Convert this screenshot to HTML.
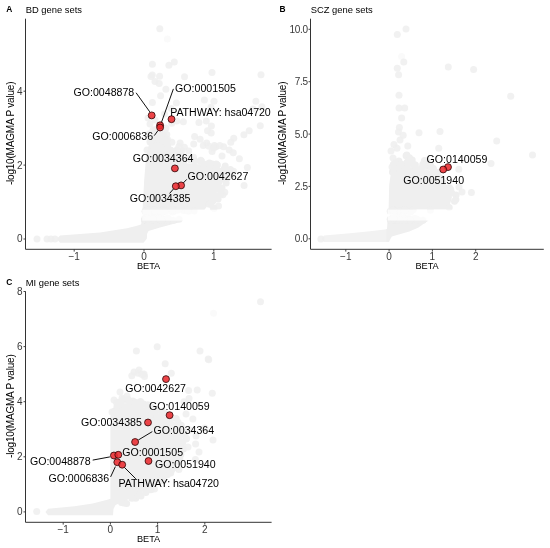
<!DOCTYPE html>
<html lang="en"><head><meta charset="utf-8"><title>Gene set volcano plots</title>
<style>
html,body{margin:0;padding:0;background:#fff;}
body{width:550px;height:548px;overflow:hidden;}
svg{display:block;font-family:"Liberation Sans", Arial, Helvetica, sans-serif;}
</style></head><body>
<svg width="550" height="548" viewBox="0 0 550 548">
<rect width="550" height="548" fill="#fff"/>
<g id="panel-A">
<g fill="#efefef">
<path d="M142.5 209.7L144.2 180.0L146.0 158.0L148.5 146.0L156.0 141.0L164.0 144.0L169.0 152.0L174.0 160.0L184.0 163.0L196.0 164.0L208.0 165.0L218.0 167.0L226.0 170.0L228.0 173.0L224.0 180.0L219.0 189.0L214.0 197.0L208.0 205.0L204.5 209.7Z"/>
<path d="M142.0 220.6L183.0 220.6L180.6 222.0L160.0 227.4L148.5 231.0L147.0 234.0L146.9 238.6L143.6 242.7L60.0 242.7L57.0 239.0L60.0 235.5L100.0 232.6L127.0 228.3L136.0 226.0L141.0 224.5Z"/>
<g fill-opacity="0.85">
<circle cx="152.2" cy="219.1" r="3.5"/>
<circle cx="153.2" cy="212.2" r="3.5"/>
<circle cx="151.2" cy="210.2" r="3.5"/>
<circle cx="149.5" cy="219.6" r="3.5"/>
<circle cx="149.1" cy="211.9" r="3.5"/>
<circle cx="146.3" cy="219.8" r="3.5"/>
<circle cx="148.8" cy="219.9" r="3.5"/>
<circle cx="163.7" cy="210.6" r="3.5"/>
<circle cx="146.4" cy="218.7" r="3.5"/>
<circle cx="165.0" cy="211.0" r="3.5"/>
<circle cx="155.8" cy="218.5" r="3.5"/>
<circle cx="149.9" cy="220.5" r="3.5"/>
<circle cx="149.3" cy="220.5" r="3.5"/>
<circle cx="151.5" cy="210.6" r="3.5"/>
<circle cx="148.8" cy="218.2" r="3.5"/>
<circle cx="149.7" cy="211.2" r="3.5"/>
<circle cx="153.1" cy="219.4" r="3.5"/>
<circle cx="148.3" cy="211.0" r="3.5"/>
<circle cx="146.8" cy="218.2" r="3.5"/>
<circle cx="155.6" cy="218.5" r="3.5"/>
<circle cx="152.6" cy="218.8" r="3.5"/>
<circle cx="162.5" cy="218.5" r="3.5"/>
<circle cx="163.7" cy="210.6" r="3.5"/>
<circle cx="150.9" cy="220.6" r="3.5"/>
<circle cx="146.2" cy="212.2" r="3.5"/>
<circle cx="164.9" cy="210.7" r="3.5"/>
<circle cx="153.6" cy="219.5" r="3.5"/>
<circle cx="163.7" cy="210.7" r="3.5"/>
<circle cx="153.4" cy="220.0" r="3.5"/>
<circle cx="149.6" cy="218.9" r="3.5"/>
<circle cx="151.5" cy="218.5" r="3.5"/>
<circle cx="149.0" cy="211.2" r="3.5"/>
<circle cx="170.7" cy="211.0" r="3.5"/>
<circle cx="148.2" cy="211.5" r="3.5"/>
<circle cx="175.4" cy="151.5" r="3.5"/>
<circle cx="243.9" cy="134.7" r="3.5"/>
<circle cx="148.9" cy="219.3" r="3.5"/>
<circle cx="154.1" cy="212.2" r="3.5"/>
<circle cx="148.9" cy="219.5" r="3.5"/>
<circle cx="145.6" cy="219.7" r="3.5"/>
<circle cx="147.5" cy="219.3" r="3.5"/>
<circle cx="145.7" cy="212.2" r="3.5"/>
<circle cx="146.9" cy="218.2" r="3.5"/>
<circle cx="156.9" cy="218.9" r="3.5"/>
<circle cx="149.9" cy="210.6" r="3.5"/>
<circle cx="168.6" cy="220.3" r="3.5"/>
<circle cx="151.4" cy="211.7" r="3.5"/>
<circle cx="149.2" cy="220.6" r="3.5"/>
<circle cx="157.8" cy="211.2" r="3.5"/>
<circle cx="151.7" cy="211.9" r="3.5"/>
<circle cx="173.1" cy="210.7" r="3.5"/>
<circle cx="239.4" cy="158.7" r="3.5"/>
<circle cx="148.3" cy="220.5" r="3.5"/>
<circle cx="160.9" cy="209.9" r="3.5"/>
<circle cx="153.3" cy="219.4" r="3.5"/>
<circle cx="145.9" cy="218.4" r="3.5"/>
<circle cx="194.2" cy="211.1" r="3.5"/>
<circle cx="152.5" cy="219.6" r="3.5"/>
<circle cx="224.8" cy="192.2" r="3.5"/>
<circle cx="146.9" cy="218.7" r="3.5"/>
<circle cx="149.3" cy="219.4" r="3.5"/>
<circle cx="154.6" cy="218.2" r="3.5"/>
<circle cx="215.9" cy="146.7" r="3.5"/>
<circle cx="149.3" cy="219.0" r="3.5"/>
<circle cx="193.5" cy="157.2" r="3.5"/>
<circle cx="148.2" cy="220.0" r="3.5"/>
<circle cx="176.6" cy="210.0" r="3.5"/>
<circle cx="148.9" cy="209.9" r="3.5"/>
<circle cx="148.0" cy="211.1" r="3.5"/>
<circle cx="145.8" cy="218.4" r="3.5"/>
<circle cx="184.1" cy="210.2" r="3.5"/>
<circle cx="206.6" cy="143.1" r="3.5"/>
<circle cx="145.8" cy="220.3" r="3.5"/>
<circle cx="158.9" cy="220.1" r="3.5"/>
<circle cx="155.0" cy="218.6" r="3.5"/>
<circle cx="223.6" cy="146.8" r="3.5"/>
<circle cx="147.1" cy="219.6" r="3.5"/>
<circle cx="222.0" cy="156.1" r="3.5"/>
<circle cx="145.7" cy="220.0" r="3.5"/>
<circle cx="148.0" cy="219.8" r="3.5"/>
<circle cx="183.7" cy="210.4" r="3.5"/>
<circle cx="153.2" cy="211.2" r="3.5"/>
<circle cx="147.9" cy="219.2" r="3.5"/>
<circle cx="164.8" cy="210.0" r="3.5"/>
<circle cx="187.9" cy="210.9" r="3.5"/>
<circle cx="173.2" cy="220.3" r="3.5"/>
<circle cx="147.6" cy="220.1" r="3.5"/>
<circle cx="151.2" cy="219.9" r="3.5"/>
<circle cx="148.5" cy="219.6" r="3.5"/>
<circle cx="152.7" cy="220.3" r="3.5"/>
<circle cx="148.1" cy="211.4" r="3.5"/>
<circle cx="146.1" cy="210.5" r="3.5"/>
<circle cx="149.3" cy="212.1" r="3.5"/>
<circle cx="146.0" cy="219.2" r="3.5"/>
<circle cx="209.3" cy="204.3" r="3.5"/>
<circle cx="172.8" cy="211.9" r="3.5"/>
<circle cx="164.5" cy="219.9" r="3.5"/>
<circle cx="149.6" cy="218.2" r="3.5"/>
<circle cx="145.0" cy="218.3" r="3.5"/>
<circle cx="153.8" cy="211.2" r="3.5"/>
<circle cx="147.9" cy="219.4" r="3.5"/>
<circle cx="146.8" cy="218.7" r="3.5"/>
<circle cx="148.6" cy="218.7" r="3.5"/>
<circle cx="147.2" cy="218.2" r="3.5"/>
<circle cx="160.9" cy="219.0" r="3.5"/>
<circle cx="156.6" cy="220.4" r="3.5"/>
<circle cx="176.1" cy="210.3" r="3.5"/>
<circle cx="145.1" cy="211.2" r="3.5"/>
<circle cx="144.8" cy="220.0" r="3.5"/>
<circle cx="146.1" cy="211.6" r="3.5"/>
<circle cx="147.3" cy="218.7" r="3.5"/>
<circle cx="148.9" cy="218.9" r="3.5"/>
<circle cx="149.7" cy="218.3" r="3.5"/>
<circle cx="149.2" cy="210.8" r="3.5"/>
<circle cx="155.1" cy="219.6" r="3.5"/>
<circle cx="145.6" cy="219.6" r="3.5"/>
<circle cx="153.0" cy="211.8" r="3.5"/>
<circle cx="147.0" cy="220.3" r="3.5"/>
<circle cx="173.2" cy="210.2" r="3.5"/>
<circle cx="159.7" cy="210.6" r="3.5"/>
<circle cx="178.6" cy="209.9" r="3.5"/>
<circle cx="160.3" cy="209.9" r="3.5"/>
<circle cx="145.4" cy="211.4" r="3.5"/>
<circle cx="189.0" cy="211.1" r="3.5"/>
<circle cx="146.4" cy="220.3" r="3.5"/>
<circle cx="149.8" cy="219.0" r="3.5"/>
<circle cx="151.9" cy="210.0" r="3.5"/>
<circle cx="147.1" cy="218.6" r="3.5"/>
<circle cx="147.9" cy="219.9" r="3.5"/>
<circle cx="167.0" cy="219.5" r="3.5"/>
<circle cx="178.3" cy="158.3" r="3.5"/>
<circle cx="156.8" cy="219.2" r="3.5"/>
<circle cx="146.2" cy="220.1" r="3.5"/>
<circle cx="152.2" cy="219.2" r="3.5"/>
<circle cx="150.1" cy="211.2" r="3.5"/>
<circle cx="146.0" cy="219.6" r="3.5"/>
<circle cx="222.9" cy="194.8" r="3.5"/>
<circle cx="166.8" cy="134.6" r="3.5"/>
<circle cx="153.9" cy="211.5" r="3.5"/>
<circle cx="163.7" cy="136.7" r="3.5"/>
<circle cx="178.7" cy="160.1" r="3.5"/>
<circle cx="152.5" cy="219.6" r="3.5"/>
<circle cx="148.1" cy="210.6" r="3.5"/>
<circle cx="148.8" cy="220.5" r="3.5"/>
<circle cx="146.0" cy="219.1" r="3.5"/>
<circle cx="213.3" cy="207.7" r="3.5"/>
<circle cx="159.0" cy="212.0" r="3.5"/>
<circle cx="188.1" cy="209.9" r="3.5"/>
<circle cx="144.9" cy="219.6" r="3.5"/>
<circle cx="152.2" cy="218.6" r="3.5"/>
<circle cx="157.0" cy="218.2" r="3.5"/>
<circle cx="146.3" cy="218.3" r="3.5"/>
<circle cx="153.0" cy="210.8" r="3.5"/>
<circle cx="159.7" cy="210.4" r="3.5"/>
<circle cx="149.3" cy="220.1" r="3.5"/>
<circle cx="157.7" cy="219.1" r="3.5"/>
<circle cx="166.9" cy="220.5" r="3.5"/>
<circle cx="144.8" cy="220.0" r="3.5"/>
<circle cx="203.3" cy="145.6" r="3.5"/>
<circle cx="156.2" cy="219.5" r="3.5"/>
<circle cx="150.7" cy="210.9" r="3.5"/>
<circle cx="213.6" cy="164.8" r="3.5"/>
<circle cx="147.5" cy="218.4" r="3.5"/>
<circle cx="146.9" cy="219.1" r="3.5"/>
<circle cx="149.0" cy="219.3" r="3.5"/>
<circle cx="218.5" cy="205.9" r="3.5"/>
<circle cx="149.0" cy="211.0" r="3.5"/>
<circle cx="149.2" cy="210.4" r="3.5"/>
<circle cx="212.1" cy="151.5" r="3.5"/>
<circle cx="149.5" cy="220.4" r="3.5"/>
<circle cx="146.3" cy="210.8" r="3.5"/>
<circle cx="200.7" cy="160.3" r="3.5"/>
<circle cx="150.6" cy="219.2" r="3.5"/>
<circle cx="168.0" cy="218.1" r="3.5"/>
<circle cx="149.3" cy="220.4" r="3.5"/>
<circle cx="147.0" cy="219.8" r="3.5"/>
<circle cx="149.2" cy="212.1" r="3.5"/>
<circle cx="146.4" cy="218.4" r="3.5"/>
<circle cx="148.6" cy="219.8" r="3.5"/>
<circle cx="147.0" cy="220.0" r="3.5"/>
<circle cx="150.9" cy="220.6" r="3.5"/>
<circle cx="146.0" cy="220.5" r="3.5"/>
<circle cx="161.3" cy="218.3" r="3.5"/>
<circle cx="156.8" cy="211.9" r="3.5"/>
<circle cx="164.9" cy="211.4" r="3.5"/>
<circle cx="184.4" cy="147.2" r="3.5"/>
<circle cx="211.4" cy="126.1" r="3.5"/>
<circle cx="148.8" cy="219.9" r="3.5"/>
<circle cx="144.8" cy="219.9" r="3.5"/>
<circle cx="152.0" cy="211.5" r="3.5"/>
<circle cx="161.9" cy="220.3" r="3.5"/>
<circle cx="153.0" cy="218.9" r="3.5"/>
<circle cx="252.9" cy="108.9" r="3.5"/>
<circle cx="158.8" cy="218.5" r="3.5"/>
<circle cx="154.0" cy="210.3" r="3.5"/>
<circle cx="244.1" cy="185.4" r="3.5"/>
<circle cx="167.7" cy="139.7" r="3.5"/>
<circle cx="180.5" cy="152.4" r="3.5"/>
<circle cx="173.2" cy="211.0" r="3.5"/>
<circle cx="160.7" cy="218.7" r="3.5"/>
<circle cx="162.4" cy="219.7" r="3.5"/>
<circle cx="150.0" cy="210.1" r="3.5"/>
<circle cx="162.3" cy="220.5" r="3.5"/>
<circle cx="147.4" cy="211.9" r="3.5"/>
<circle cx="156.4" cy="211.3" r="3.5"/>
<circle cx="162.5" cy="212.0" r="3.5"/>
<circle cx="151.9" cy="210.6" r="3.5"/>
<circle cx="188.4" cy="158.5" r="3.5"/>
<circle cx="145.9" cy="220.0" r="3.5"/>
<circle cx="146.0" cy="219.3" r="3.5"/>
<circle cx="145.5" cy="219.1" r="3.5"/>
<circle cx="162.4" cy="219.8" r="3.5"/>
<circle cx="147.5" cy="220.5" r="3.5"/>
<circle cx="146.8" cy="219.3" r="3.5"/>
<circle cx="155.3" cy="220.5" r="3.5"/>
<circle cx="159.6" cy="220.3" r="3.5"/>
<circle cx="147.7" cy="210.1" r="3.5"/>
<circle cx="151.8" cy="219.3" r="3.5"/>
<circle cx="153.4" cy="210.3" r="3.5"/>
<circle cx="146.8" cy="218.3" r="3.5"/>
<circle cx="154.1" cy="211.1" r="3.5"/>
<circle cx="149.7" cy="218.6" r="3.5"/>
<circle cx="160.6" cy="211.5" r="3.5"/>
<circle cx="146.6" cy="219.9" r="3.5"/>
<circle cx="145.6" cy="219.2" r="3.5"/>
<circle cx="167.9" cy="218.2" r="3.5"/>
<circle cx="155.1" cy="129.7" r="3.5"/>
<circle cx="154.7" cy="219.6" r="3.5"/>
<circle cx="146.6" cy="218.5" r="3.5"/>
<circle cx="157.5" cy="210.7" r="3.5"/>
<circle cx="155.8" cy="218.4" r="3.5"/>
<circle cx="147.1" cy="218.5" r="3.5"/>
<circle cx="149.0" cy="220.5" r="3.5"/>
<circle cx="172.5" cy="211.5" r="3.5"/>
<circle cx="148.8" cy="210.3" r="3.5"/>
<circle cx="147.8" cy="211.4" r="3.5"/>
<circle cx="154.0" cy="218.9" r="3.5"/>
<circle cx="233.7" cy="138.3" r="3.5"/>
<circle cx="148.7" cy="219.5" r="3.5"/>
<circle cx="164.2" cy="211.1" r="3.5"/>
<circle cx="149.5" cy="220.1" r="3.5"/>
<circle cx="179.1" cy="157.4" r="3.5"/>
<circle cx="146.0" cy="210.9" r="3.5"/>
<circle cx="181.6" cy="150.9" r="3.5"/>
<circle cx="153.1" cy="219.0" r="3.5"/>
<circle cx="159.9" cy="219.5" r="3.5"/>
<circle cx="172.5" cy="210.1" r="3.5"/>
<circle cx="151.7" cy="218.1" r="3.5"/>
<circle cx="214.1" cy="208.5" r="3.5"/>
<circle cx="158.9" cy="210.9" r="3.5"/>
<circle cx="150.7" cy="220.4" r="3.5"/>
<circle cx="161.9" cy="220.6" r="3.5"/>
<circle cx="148.7" cy="220.5" r="3.5"/>
<circle cx="153.0" cy="219.3" r="3.5"/>
<circle cx="154.9" cy="210.2" r="3.5"/>
<circle cx="180.1" cy="143.0" r="3.5"/>
<circle cx="179.1" cy="219.3" r="3.5"/>
<circle cx="148.2" cy="219.3" r="3.5"/>
<circle cx="210.9" cy="107.3" r="3.5"/>
<circle cx="156.9" cy="129.2" r="3.5"/>
<circle cx="159.6" cy="76.3" r="3.5"/>
<circle cx="233.5" cy="171.2" r="3.5"/>
<circle cx="171.1" cy="108.5" r="3.5"/>
<circle cx="180.3" cy="158.8" r="3.5"/>
<circle cx="188.7" cy="150.9" r="3.5"/>
<circle cx="180.2" cy="155.4" r="3.5"/>
<circle cx="164.6" cy="114.0" r="3.5"/>
<circle cx="153.9" cy="136.3" r="3.5"/>
<circle cx="229.2" cy="149.9" r="3.5"/>
<circle cx="158.3" cy="128.4" r="3.5"/>
<circle cx="171.0" cy="150.6" r="3.5"/>
<circle cx="177.1" cy="149.7" r="3.5"/>
<circle cx="177.3" cy="157.0" r="3.5"/>
<circle cx="193.7" cy="144.0" r="3.5"/>
<circle cx="165.9" cy="89.3" r="3.5"/>
<circle cx="184.5" cy="76.7" r="3.5"/>
<circle cx="151.1" cy="135.2" r="3.5"/>
<circle cx="151.7" cy="140.6" r="3.5"/>
<circle cx="152.3" cy="75.0" r="3.5"/>
<circle cx="155.0" cy="141.3" r="3.5"/>
<circle cx="176.4" cy="102.9" r="3.5"/>
<circle cx="183.4" cy="121.7" r="3.5"/>
<circle cx="171.7" cy="123.3" r="3.5"/>
<circle cx="214.4" cy="145.4" r="3.5"/>
<circle cx="179.0" cy="146.4" r="3.5"/>
<circle cx="209.0" cy="146.3" r="3.5"/>
<circle cx="194.6" cy="136.6" r="3.5"/>
<circle cx="168.9" cy="65.2" r="3.5"/>
<circle cx="160.0" cy="132.8" r="3.5"/>
<circle cx="159.8" cy="28.7" r="3.5"/>
<circle cx="152.4" cy="64.3" r="3.5"/>
<circle cx="174.3" cy="62.1" r="3.5"/>
<circle cx="212.0" cy="72.5" r="3.5"/>
<circle cx="261.0" cy="74.7" r="3.5"/>
<circle cx="151.0" cy="76.6" r="3.5"/>
<circle cx="155.0" cy="81.5" r="3.5"/>
<circle cx="159.2" cy="83.4" r="3.5"/>
<circle cx="152.4" cy="102.6" r="3.5"/>
<circle cx="160.6" cy="95.8" r="3.5"/>
<circle cx="204.4" cy="99.9" r="3.5"/>
<circle cx="214.0" cy="101.2" r="3.5"/>
<circle cx="255.9" cy="101.2" r="3.5"/>
<circle cx="261.9" cy="106.7" r="3.5"/>
<circle cx="37.0" cy="239.0" r="3.5"/>
<circle cx="47.0" cy="239.0" r="3.5"/>
<circle cx="51.0" cy="239.0" r="3.5"/>
<circle cx="55.0" cy="239.0" r="3.5"/>
<circle cx="198.9" cy="122.6" r="3.5"/>
<circle cx="206.3" cy="120.9" r="3.5"/>
<circle cx="207.5" cy="130.7" r="3.5"/>
<circle cx="211.2" cy="133.1" r="3.5"/>
<circle cx="200.1" cy="139.3" r="3.5"/>
<circle cx="230.8" cy="142.2" r="3.5"/>
<circle cx="171.9" cy="142.2" r="3.5"/>
<circle cx="213.6" cy="147.9" r="3.5"/>
<circle cx="219.8" cy="145.4" r="3.5"/>
<circle cx="233.3" cy="152.8" r="3.5"/>
<circle cx="249.2" cy="130.7" r="3.5"/>
<circle cx="260.3" cy="125.8" r="3.5"/>
<circle cx="176.8" cy="120.9" r="3.5"/>
<circle cx="247.4" cy="167.5" r="3.5"/>
<circle cx="148.0" cy="118.0" r="3.5"/>
<circle cx="150.0" cy="124.0" r="3.5"/>
<circle cx="153.0" cy="130.0" r="3.5"/>
<circle cx="149.0" cy="134.0" r="3.5"/>
<circle cx="156.0" cy="138.0" r="3.5"/>
<circle cx="163.0" cy="134.0" r="3.5"/>
<circle cx="166.0" cy="140.0" r="3.5"/>
<circle cx="158.0" cy="146.0" r="3.5"/>
<circle cx="150.0" cy="142.0" r="3.5"/>
<circle cx="147.0" cy="150.0" r="3.5"/>
<circle cx="166.0" cy="128.0" r="3.5"/>
<circle cx="155.0" cy="120.0" r="3.5"/>
</g>
<circle cx="167.4" cy="39.1" r="3.5" fill-opacity="0.3"/>
<circle cx="151.5" cy="142.8" r="3.5"/>
<circle cx="150.2" cy="141.5" r="3.5"/>
<circle cx="155.8" cy="138.8" r="3.5"/>
<circle cx="158.3" cy="139.1" r="3.5"/>
<circle cx="159.9" cy="141.9" r="3.5"/>
<circle cx="163.0" cy="141.0" r="3.5"/>
<circle cx="166.0" cy="142.4" r="3.5"/>
<circle cx="167.6" cy="145.0" r="3.5"/>
<circle cx="167.5" cy="146.7" r="3.5"/>
<circle cx="170.4" cy="150.0" r="3.5"/>
<circle cx="172.3" cy="152.6" r="3.5"/>
<circle cx="175.8" cy="159.0" r="3.5"/>
<circle cx="175.3" cy="160.2" r="3.5"/>
<circle cx="178.4" cy="157.6" r="3.5"/>
<circle cx="183.6" cy="161.8" r="3.5"/>
<circle cx="183.8" cy="161.2" r="3.5"/>
<circle cx="191.1" cy="159.7" r="3.5"/>
<circle cx="190.7" cy="159.8" r="3.5"/>
<circle cx="194.4" cy="160.9" r="3.5"/>
<circle cx="200.1" cy="161.3" r="3.5"/>
<circle cx="201.4" cy="161.0" r="3.5"/>
<circle cx="203.8" cy="164.0" r="3.5"/>
<circle cx="208.3" cy="163.8" r="3.5"/>
<circle cx="209.4" cy="163.0" r="3.5"/>
<circle cx="212.2" cy="164.1" r="3.5"/>
<circle cx="214.3" cy="165.7" r="3.5"/>
<circle cx="216.3" cy="164.1" r="3.5"/>
<circle cx="217.4" cy="164.9" r="3.5"/>
<circle cx="225.2" cy="166.0" r="3.5"/>
<circle cx="224.3" cy="168.8" r="3.5"/>
<circle cx="230.3" cy="169.6" r="3.5"/>
<circle cx="232.5" cy="172.1" r="3.5"/>
<circle cx="230.8" cy="175.6" r="3.5"/>
<circle cx="227.1" cy="178.0" r="3.5"/>
<circle cx="226.1" cy="183.1" r="3.5"/>
<circle cx="222.0" cy="187.9" r="3.5"/>
<circle cx="220.3" cy="190.2" r="3.5"/>
<circle cx="220.6" cy="194.4" r="3.5"/>
<circle cx="216.4" cy="195.7" r="3.5"/>
<circle cx="218.1" cy="199.1" r="3.5"/>
<circle cx="212.7" cy="201.1" r="3.5"/>
<circle cx="213.2" cy="200.2" r="3.5"/>
<circle cx="210.8" cy="203.9" r="3.5"/>
<rect x="142.2" y="209.7" width="129.8" height="10.900000000000006" fill="#fff" fill-opacity="0.72"/>
</g>
<path d="M25.5 18.7V249.3H271.6" fill="none" stroke="#333" stroke-width="1"/>
<path d="M74.2 249.3v2.3" stroke="#333" stroke-width="0.9"/>
<text x="74.2" y="259.5" font-size="10" fill="#383838" text-anchor="middle">−1</text>
<path d="M144.0 249.3v2.3" stroke="#333" stroke-width="0.9"/>
<text x="144.0" y="259.5" font-size="10" fill="#383838" text-anchor="middle">0</text>
<path d="M213.8 249.3v2.3" stroke="#333" stroke-width="0.9"/>
<text x="213.8" y="259.5" font-size="10" fill="#383838" text-anchor="middle">1</text>
<path d="M25.5 239.0h-2" stroke="#333" stroke-width="0.9"/>
<text x="22.6" y="242.4" font-size="10" fill="#383838" text-anchor="end">0</text>
<path d="M25.5 165.1h-2" stroke="#333" stroke-width="0.9"/>
<text x="22.6" y="168.5" font-size="10" fill="#383838" text-anchor="end">2</text>
<path d="M25.5 91.2h-2" stroke="#333" stroke-width="0.9"/>
<text x="22.6" y="94.6" font-size="10" fill="#383838" text-anchor="end">4</text>
<text x="148.6" y="269.3" font-size="9.2" fill="#000" text-anchor="middle">BETA</text>
<text transform="translate(13.5 133.4) rotate(-90)" font-size="10" letter-spacing="-0.2" fill="#000" text-anchor="middle">-log10(MAGMA P value)</text>
<text x="25.7" y="12.6" font-size="9.4" fill="#000">BD gene sets</text>
<text x="6.3" y="12.0" font-size="8.4" font-weight="bold" fill="#000">A</text>
<path d="M136.1 92.8L149.8 111.9" stroke="#111" stroke-width="1" fill="none"/>
<path d="M173.4 88.9L161.3 122.8" stroke="#111" stroke-width="1" fill="none"/>
<path d="M154.3 135.6L157.8 130.8" stroke="#111" stroke-width="1" fill="none"/>
<path d="M186.7 179.4L183.1 183.2" stroke="#111" stroke-width="1" fill="none"/>
<path d="M169.6 193.4L173.6 188.8" stroke="#111" stroke-width="1" fill="none"/>
<circle cx="151.7" cy="115.4" r="3.45" fill="#ea262b" fill-opacity="0.86" stroke="#2a0404" stroke-width="0.8"/>
<circle cx="160.1" cy="125.3" r="3.45" fill="#ea262b" fill-opacity="0.86" stroke="#2a0404" stroke-width="0.8"/>
<circle cx="160.1" cy="127.5" r="3.45" fill="#ea262b" fill-opacity="0.86" stroke="#2a0404" stroke-width="0.8"/>
<circle cx="171.5" cy="119.2" r="3.45" fill="#ea262b" fill-opacity="0.86" stroke="#2a0404" stroke-width="0.8"/>
<circle cx="174.9" cy="168.4" r="3.45" fill="#ea262b" fill-opacity="0.86" stroke="#2a0404" stroke-width="0.8"/>
<circle cx="181.1" cy="185.4" r="3.45" fill="#ea262b" fill-opacity="0.86" stroke="#2a0404" stroke-width="0.8"/>
<circle cx="175.8" cy="186.2" r="3.45" fill="#ea262b" fill-opacity="0.86" stroke="#2a0404" stroke-width="0.8"/>
<text x="73.5" y="96.4" font-size="10.62" fill="#000">GO:0048878</text>
<text x="175.1" y="91.6" font-size="10.62" fill="#000">GO:0001505</text>
<text x="170.2" y="115.8" font-size="10.62" fill="#000" letter-spacing="-0.07">PATHWAY: hsa04720</text>
<text x="92.3" y="140.1" font-size="10.62" fill="#000">GO:0006836</text>
<text x="132.7" y="161.5" font-size="10.62" fill="#000">GO:0034364</text>
<text x="187.6" y="180.3" font-size="10.62" fill="#000">GO:0042627</text>
<text x="129.7" y="201.6" font-size="10.62" fill="#000">GO:0034385</text>
</g>
<g id="panel-B">
<g fill="#efefef">
<path d="M388.6 209.6L389.2 185.0L391.0 172.0L396.0 166.0L404.0 168.0L412.0 167.0L420.0 171.0L428.0 170.0L436.0 176.0L443.0 184.0L449.0 191.0L452.0 197.0L450.0 204.0L447.0 209.6Z"/>
<path d="M387.5 220.5L428.5 220.5L418.0 227.8L409.3 231.5L391.8 236.5L390.4 239.0L389.0 242.0L386.0 242.0L386.0 229.3L387.0 229.0Z"/>
<path fill="#f2f2f2" d="M386.2 242.0L324.0 242.0L321.5 238.9L324.0 235.6L350.0 233.3L370.0 231.2L385.0 229.5L386.2 229.3Z"/>
<g fill-opacity="0.85">
<circle cx="394.4" cy="218.7" r="3.5"/>
<circle cx="392.1" cy="220.3" r="3.5"/>
<circle cx="392.6" cy="220.4" r="3.5"/>
<circle cx="390.7" cy="219.6" r="3.5"/>
<circle cx="394.2" cy="220.4" r="3.5"/>
<circle cx="395.8" cy="210.2" r="3.5"/>
<circle cx="401.8" cy="209.6" r="3.5"/>
<circle cx="391.5" cy="218.9" r="3.5"/>
<circle cx="401.9" cy="220.2" r="3.5"/>
<circle cx="393.7" cy="219.5" r="3.5"/>
<circle cx="404.2" cy="218.8" r="3.5"/>
<circle cx="397.5" cy="218.7" r="3.5"/>
<circle cx="394.1" cy="219.5" r="3.5"/>
<circle cx="393.0" cy="220.1" r="3.5"/>
<circle cx="399.5" cy="219.0" r="3.5"/>
<circle cx="408.0" cy="218.1" r="3.5"/>
<circle cx="401.1" cy="219.4" r="3.5"/>
<circle cx="390.2" cy="219.2" r="3.5"/>
<circle cx="391.8" cy="219.5" r="3.5"/>
<circle cx="397.0" cy="218.7" r="3.5"/>
<circle cx="395.7" cy="219.3" r="3.5"/>
<circle cx="398.6" cy="219.4" r="3.5"/>
<circle cx="392.5" cy="218.6" r="3.5"/>
<circle cx="395.7" cy="219.4" r="3.5"/>
<circle cx="399.7" cy="219.7" r="3.5"/>
<circle cx="391.6" cy="220.4" r="3.5"/>
<circle cx="397.0" cy="219.1" r="3.5"/>
<circle cx="392.1" cy="220.1" r="3.5"/>
<circle cx="395.0" cy="218.6" r="3.5"/>
<circle cx="395.1" cy="219.7" r="3.5"/>
<circle cx="401.6" cy="210.3" r="3.5"/>
<circle cx="407.0" cy="219.7" r="3.5"/>
<circle cx="401.0" cy="211.1" r="3.5"/>
<circle cx="394.1" cy="219.9" r="3.5"/>
<circle cx="392.5" cy="219.5" r="3.5"/>
<circle cx="393.3" cy="218.2" r="3.5"/>
<circle cx="394.8" cy="219.1" r="3.5"/>
<circle cx="410.7" cy="212.0" r="3.5"/>
<circle cx="405.8" cy="219.0" r="3.5"/>
<circle cx="399.2" cy="211.8" r="3.5"/>
<circle cx="392.2" cy="219.8" r="3.5"/>
<circle cx="397.9" cy="210.8" r="3.5"/>
<circle cx="392.7" cy="210.5" r="3.5"/>
<circle cx="393.3" cy="218.0" r="3.5"/>
<circle cx="414.5" cy="218.4" r="3.5"/>
<circle cx="392.1" cy="210.9" r="3.5"/>
<circle cx="397.8" cy="219.8" r="3.5"/>
<circle cx="403.5" cy="220.1" r="3.5"/>
<circle cx="416.0" cy="218.8" r="3.5"/>
<circle cx="405.4" cy="211.3" r="3.5"/>
<circle cx="401.5" cy="218.7" r="3.5"/>
<circle cx="399.3" cy="220.4" r="3.5"/>
<circle cx="392.8" cy="218.9" r="3.5"/>
<circle cx="391.5" cy="219.6" r="3.5"/>
<circle cx="423.0" cy="220.2" r="3.5"/>
<circle cx="409.6" cy="219.0" r="3.5"/>
<circle cx="408.1" cy="219.8" r="3.5"/>
<circle cx="392.5" cy="219.7" r="3.5"/>
<circle cx="398.0" cy="218.0" r="3.5"/>
<circle cx="396.2" cy="211.6" r="3.5"/>
<circle cx="430.4" cy="210.2" r="3.5"/>
<circle cx="409.3" cy="220.4" r="3.5"/>
<circle cx="401.3" cy="220.0" r="3.5"/>
<circle cx="399.6" cy="211.2" r="3.5"/>
<circle cx="401.1" cy="219.6" r="3.5"/>
<circle cx="393.7" cy="218.7" r="3.5"/>
<circle cx="395.2" cy="218.6" r="3.5"/>
<circle cx="395.8" cy="220.2" r="3.5"/>
<circle cx="393.3" cy="218.8" r="3.5"/>
<circle cx="393.0" cy="218.4" r="3.5"/>
<circle cx="392.1" cy="219.9" r="3.5"/>
<circle cx="395.4" cy="219.4" r="3.5"/>
<circle cx="391.5" cy="220.4" r="3.5"/>
<circle cx="426.8" cy="160.9" r="3.5"/>
<circle cx="409.8" cy="220.3" r="3.5"/>
<circle cx="404.0" cy="220.4" r="3.5"/>
<circle cx="399.1" cy="211.6" r="3.5"/>
<circle cx="398.5" cy="211.6" r="3.5"/>
<circle cx="394.5" cy="211.1" r="3.5"/>
<circle cx="393.2" cy="218.5" r="3.5"/>
<circle cx="392.5" cy="219.6" r="3.5"/>
<circle cx="394.5" cy="210.5" r="3.5"/>
<circle cx="403.1" cy="218.2" r="3.5"/>
<circle cx="404.0" cy="211.6" r="3.5"/>
<circle cx="390.2" cy="211.2" r="3.5"/>
<circle cx="391.5" cy="219.6" r="3.5"/>
<circle cx="413.3" cy="209.7" r="3.5"/>
<circle cx="393.3" cy="210.4" r="3.5"/>
<circle cx="390.5" cy="220.1" r="3.5"/>
<circle cx="397.4" cy="218.4" r="3.5"/>
<circle cx="417.7" cy="219.8" r="3.5"/>
<circle cx="403.1" cy="218.4" r="3.5"/>
<circle cx="399.9" cy="219.5" r="3.5"/>
<circle cx="404.1" cy="218.8" r="3.5"/>
<circle cx="396.4" cy="219.7" r="3.5"/>
<circle cx="393.0" cy="218.7" r="3.5"/>
<circle cx="395.4" cy="218.6" r="3.5"/>
<circle cx="402.6" cy="220.5" r="3.5"/>
<circle cx="394.1" cy="218.4" r="3.5"/>
<circle cx="394.8" cy="218.2" r="3.5"/>
<circle cx="397.0" cy="218.1" r="3.5"/>
<circle cx="471.4" cy="192.5" r="3.5"/>
<circle cx="394.0" cy="211.2" r="3.5"/>
<circle cx="404.7" cy="210.0" r="3.5"/>
<circle cx="394.7" cy="219.6" r="3.5"/>
<circle cx="391.6" cy="219.2" r="3.5"/>
<circle cx="399.6" cy="220.4" r="3.5"/>
<circle cx="392.5" cy="219.4" r="3.5"/>
<circle cx="392.8" cy="210.1" r="3.5"/>
<circle cx="391.1" cy="220.3" r="3.5"/>
<circle cx="398.8" cy="219.6" r="3.5"/>
<circle cx="393.9" cy="218.4" r="3.5"/>
<circle cx="320.9" cy="238.9" r="3.5"/>
<circle cx="406.0" cy="29.0" r="3.5"/>
<circle cx="397.3" cy="34.6" r="3.5"/>
<circle cx="403.8" cy="62.1" r="3.5"/>
<circle cx="397.3" cy="68.2" r="3.5"/>
<circle cx="398.6" cy="74.8" r="3.5"/>
<circle cx="448.3" cy="66.9" r="3.5"/>
<circle cx="473.6" cy="69.5" r="3.5"/>
<circle cx="399.0" cy="95.3" r="3.5"/>
<circle cx="510.7" cy="96.2" r="3.5"/>
<circle cx="399.0" cy="107.9" r="3.5"/>
<circle cx="404.7" cy="107.9" r="3.5"/>
<circle cx="401.6" cy="118.0" r="3.5"/>
<circle cx="399.4" cy="127.6" r="3.5"/>
<circle cx="419.0" cy="132.8" r="3.5"/>
<circle cx="440.0" cy="131.5" r="3.5"/>
<circle cx="496.7" cy="141.0" r="3.5"/>
<circle cx="532.5" cy="155.0" r="3.5"/>
<circle cx="491.0" cy="163.6" r="3.5"/>
<circle cx="398.5" cy="132.1" r="3.5"/>
<circle cx="403.2" cy="135.2" r="3.5"/>
<circle cx="393.9" cy="144.5" r="3.5"/>
<circle cx="397.0" cy="148.2" r="3.5"/>
<circle cx="407.8" cy="146.0" r="3.5"/>
<circle cx="438.7" cy="148.2" r="3.5"/>
<circle cx="458.8" cy="169.2" r="3.5"/>
<circle cx="393.0" cy="158.0" r="3.5"/>
<circle cx="396.0" cy="163.0" r="3.5"/>
<circle cx="392.0" cy="167.0" r="3.5"/>
<circle cx="398.0" cy="168.0" r="3.5"/>
<circle cx="424.0" cy="162.0" r="3.5"/>
<circle cx="429.0" cy="166.0" r="3.5"/>
<circle cx="426.0" cy="170.0" r="3.5"/>
<circle cx="459.0" cy="187.0" r="3.5"/>
<circle cx="462.0" cy="192.0" r="3.5"/>
<circle cx="400.0" cy="140.0" r="3.5"/>
<circle cx="391.0" cy="151.0" r="3.5"/>
</g>
<circle cx="401.6" cy="56.4" r="3.5" fill-opacity="0.3"/>
<circle cx="392.4" cy="172.1" r="3.5"/>
<circle cx="393.5" cy="170.9" r="3.5"/>
<circle cx="394.2" cy="167.8" r="3.5"/>
<circle cx="393.4" cy="164.3" r="3.5"/>
<circle cx="396.3" cy="162.2" r="3.5"/>
<circle cx="398.9" cy="161.1" r="3.5"/>
<circle cx="401.5" cy="164.2" r="3.5"/>
<circle cx="401.3" cy="164.5" r="3.5"/>
<circle cx="404.3" cy="166.9" r="3.5"/>
<circle cx="407.5" cy="165.7" r="3.5"/>
<circle cx="407.3" cy="162.1" r="3.5"/>
<circle cx="412.2" cy="159.9" r="3.5"/>
<circle cx="413.5" cy="164.2" r="3.5"/>
<circle cx="415.4" cy="165.0" r="3.5"/>
<circle cx="415.5" cy="168.8" r="3.5"/>
<circle cx="421.1" cy="168.5" r="3.5"/>
<circle cx="422.8" cy="164.6" r="3.5"/>
<circle cx="424.2" cy="163.6" r="3.5"/>
<circle cx="426.7" cy="165.2" r="3.5"/>
<circle cx="430.8" cy="166.0" r="3.5"/>
<circle cx="433.4" cy="170.3" r="3.5"/>
<circle cx="433.3" cy="168.6" r="3.5"/>
<circle cx="435.9" cy="172.4" r="3.5"/>
<circle cx="438.0" cy="172.6" r="3.5"/>
<circle cx="439.7" cy="177.4" r="3.5"/>
<circle cx="440.9" cy="179.5" r="3.5"/>
<circle cx="442.3" cy="183.7" r="3.5"/>
<circle cx="443.0" cy="182.6" r="3.5"/>
<circle cx="447.6" cy="188.0" r="3.5"/>
<circle cx="449.5" cy="187.8" r="3.5"/>
<circle cx="450.7" cy="189.5" r="3.5"/>
<circle cx="451.7" cy="193.1" r="3.5"/>
<circle cx="456.1" cy="195.1" r="3.5"/>
<circle cx="455.9" cy="199.5" r="3.5"/>
<circle cx="454.5" cy="201.2" r="3.5"/>
<circle cx="449.2" cy="207.6" r="3.5"/>
<circle cx="406.8" cy="154.9" r="3.5"/>
<circle cx="406.1" cy="155.8" r="3.5"/>
<circle cx="409.5" cy="157.7" r="3.5"/>
<circle cx="410.9" cy="162.0" r="3.5"/>
<circle cx="424.5" cy="160.4" r="3.5"/>
<circle cx="427.0" cy="163.2" r="3.5"/>
<circle cx="430.3" cy="166.0" r="3.5"/>
<circle cx="433.0" cy="169.5" r="3.5"/>
<circle cx="434.8" cy="173.0" r="3.5"/>
<circle cx="436.9" cy="174.0" r="3.5"/>
<rect x="387.8" y="209.6" width="157.2" height="10.900000000000006" fill="#fff" fill-opacity="0.72"/>
</g>
<path d="M310.5 18.7V249.3H543.8" fill="none" stroke="#333" stroke-width="1"/>
<path d="M345.8 249.3v2.3" stroke="#333" stroke-width="0.9"/>
<text x="345.8" y="259.5" font-size="10" fill="#383838" text-anchor="middle">−1</text>
<path d="M389.1 249.3v2.3" stroke="#333" stroke-width="0.9"/>
<text x="389.1" y="259.5" font-size="10" fill="#383838" text-anchor="middle">0</text>
<path d="M432.4 249.3v2.3" stroke="#333" stroke-width="0.9"/>
<text x="432.4" y="259.5" font-size="10" fill="#383838" text-anchor="middle">1</text>
<path d="M475.7 249.3v2.3" stroke="#333" stroke-width="0.9"/>
<text x="475.7" y="259.5" font-size="10" fill="#383838" text-anchor="middle">2</text>
<path d="M310.5 238.8h-2" stroke="#333" stroke-width="0.9"/>
<text x="307.8" y="242.2" font-size="10" letter-spacing="-0.3" fill="#383838" text-anchor="end">0.0</text>
<path d="M310.5 186.4h-2" stroke="#333" stroke-width="0.9"/>
<text x="307.8" y="189.9" font-size="10" letter-spacing="-0.3" fill="#383838" text-anchor="end">2.5</text>
<path d="M310.5 134.1h-2" stroke="#333" stroke-width="0.9"/>
<text x="307.8" y="137.5" font-size="10" letter-spacing="-0.3" fill="#383838" text-anchor="end">5.0</text>
<path d="M310.5 81.7h-2" stroke="#333" stroke-width="0.9"/>
<text x="307.8" y="85.1" font-size="10" letter-spacing="-0.3" fill="#383838" text-anchor="end">7.5</text>
<path d="M310.5 29.3h-2" stroke="#333" stroke-width="0.9"/>
<text x="307.8" y="32.8" font-size="10" letter-spacing="-0.3" fill="#383838" text-anchor="end">10.0</text>
<text x="427.1" y="269.3" font-size="9.2" fill="#000" text-anchor="middle">BETA</text>
<text transform="translate(285.7 133.4) rotate(-90)" font-size="10" letter-spacing="-0.2" fill="#000" text-anchor="middle">-log10(MAGMA P value)</text>
<text x="310.7" y="12.6" font-size="9.4" fill="#000">SCZ gene sets</text>
<text x="279.6" y="12.0" font-size="8.4" font-weight="bold" fill="#000">B</text>
<circle cx="448.0" cy="167.1" r="3.45" fill="#ea262b" fill-opacity="0.86" stroke="#2a0404" stroke-width="0.8"/>
<circle cx="443.2" cy="169.5" r="3.45" fill="#ea262b" fill-opacity="0.86" stroke="#2a0404" stroke-width="0.8"/>
<text x="426.6" y="162.5" font-size="10.62" fill="#000">GO:0140059</text>
<text x="403.3" y="183.5" font-size="10.62" fill="#000">GO:0051940</text>
</g>
<g id="panel-C">
<g fill="#efefef">
<path d="M110.4 416.0L114.0 408.0L122.0 404.0L135.0 404.0L146.0 408.0L160.0 414.0L172.0 420.0L180.0 428.0L183.0 440.0L180.0 452.0L172.0 466.0L160.0 480.0L147.5 487.6L136.0 496.4L128.6 499.3L115.5 505.0L113.5 509.0L113.0 515.3L48.0 515.3L45.5 512.0L48.0 508.7L74.5 506.2L92.7 503.5L107.3 499.8L110.4 498.7Z"/>
<g fill-opacity="0.85">
<circle cx="152.4" cy="486.1" r="3.5"/>
<circle cx="139.9" cy="494.7" r="3.5"/>
<circle cx="178.9" cy="469.6" r="3.5"/>
<circle cx="173.6" cy="467.8" r="3.5"/>
<circle cx="161.2" cy="479.1" r="3.5"/>
<circle cx="195.4" cy="459.4" r="3.5"/>
<circle cx="146.9" cy="489.9" r="3.5"/>
<circle cx="150.6" cy="489.7" r="3.5"/>
<circle cx="171.8" cy="467.6" r="3.5"/>
<circle cx="148.9" cy="487.7" r="3.5"/>
<circle cx="154.5" cy="488.9" r="3.5"/>
<circle cx="149.9" cy="488.7" r="3.5"/>
<circle cx="176.2" cy="460.6" r="3.5"/>
<circle cx="157.2" cy="346.8" r="3.5"/>
<circle cx="165.2" cy="363.7" r="3.5"/>
<circle cx="195.6" cy="444.1" r="3.5"/>
<circle cx="197.2" cy="389.9" r="3.5"/>
<circle cx="260.5" cy="301.8" r="3.5"/>
<circle cx="136.4" cy="350.9" r="3.5"/>
<circle cx="200.0" cy="350.9" r="3.5"/>
<circle cx="208.2" cy="359.1" r="3.5"/>
<circle cx="134.0" cy="372.0" r="3.5"/>
<circle cx="139.0" cy="370.0" r="3.5"/>
<circle cx="144.0" cy="374.0" r="3.5"/>
<circle cx="188.6" cy="390.5" r="3.5"/>
<circle cx="212.3" cy="393.2" r="3.5"/>
<circle cx="36.7" cy="511.6" r="3.5"/>
<circle cx="208.7" cy="359.7" r="3.5"/>
<circle cx="131.8" cy="375.7" r="3.5"/>
<circle cx="138.2" cy="373.2" r="3.5"/>
<circle cx="142.0" cy="374.5" r="3.5"/>
<circle cx="144.5" cy="376.5" r="3.5"/>
<circle cx="171.3" cy="373.2" r="3.5"/>
<circle cx="116.5" cy="402.4" r="3.5"/>
<circle cx="125.0" cy="402.0" r="3.5"/>
<circle cx="129.0" cy="406.0" r="3.5"/>
<circle cx="133.0" cy="401.0" r="3.5"/>
<circle cx="136.0" cy="409.0" r="3.5"/>
<circle cx="141.0" cy="405.0" r="3.5"/>
<circle cx="146.0" cy="410.0" r="3.5"/>
<circle cx="152.2" cy="413.9" r="3.5"/>
<circle cx="157.3" cy="416.4" r="3.5"/>
<circle cx="189.0" cy="398.6" r="3.5"/>
<circle cx="184.0" cy="401.7" r="3.5"/>
<circle cx="192.9" cy="419.0" r="3.5"/>
<circle cx="118.0" cy="409.0" r="3.5"/>
<circle cx="122.0" cy="398.0" r="3.5"/>
<circle cx="112.0" cy="412.0" r="3.5"/>
<circle cx="127.0" cy="396.0" r="3.5"/>
<circle cx="120.0" cy="392.0" r="3.5"/>
<circle cx="114.0" cy="400.0" r="3.5"/>
<circle cx="186.0" cy="414.0" r="3.5"/>
<circle cx="190.0" cy="430.0" r="3.5"/>
<circle cx="196.0" cy="436.0" r="3.5"/>
<circle cx="205.0" cy="428.0" r="3.5"/>
<circle cx="188.0" cy="447.0" r="3.5"/>
<circle cx="199.0" cy="452.0" r="3.5"/>
<circle cx="213.0" cy="440.0" r="3.5"/>
</g>
<circle cx="213.6" cy="313.2" r="3.5" fill-opacity="0.3"/>
<circle cx="113.4" cy="412.1" r="3.5"/>
<circle cx="115.0" cy="410.8" r="3.5"/>
<circle cx="117.0" cy="406.4" r="3.5"/>
<circle cx="118.7" cy="402.3" r="3.5"/>
<circle cx="120.7" cy="402.3" r="3.5"/>
<circle cx="123.1" cy="399.4" r="3.5"/>
<circle cx="128.0" cy="399.6" r="3.5"/>
<circle cx="130.2" cy="402.3" r="3.5"/>
<circle cx="133.3" cy="401.8" r="3.5"/>
<circle cx="135.7" cy="402.5" r="3.5"/>
<circle cx="137.1" cy="403.4" r="3.5"/>
<circle cx="140.5" cy="401.5" r="3.5"/>
<circle cx="143.4" cy="404.0" r="3.5"/>
<circle cx="148.5" cy="406.4" r="3.5"/>
<circle cx="147.8" cy="404.7" r="3.5"/>
<circle cx="151.8" cy="407.2" r="3.5"/>
<circle cx="155.9" cy="410.1" r="3.5"/>
<circle cx="157.2" cy="410.0" r="3.5"/>
<circle cx="161.9" cy="411.2" r="3.5"/>
<circle cx="164.0" cy="412.8" r="3.5"/>
<circle cx="166.6" cy="414.2" r="3.5"/>
<circle cx="170.8" cy="416.8" r="3.5"/>
<circle cx="171.4" cy="418.6" r="3.5"/>
<circle cx="176.2" cy="418.6" r="3.5"/>
<circle cx="178.0" cy="422.3" r="3.5"/>
<circle cx="181.2" cy="425.3" r="3.5"/>
<circle cx="179.7" cy="430.3" r="3.5"/>
<circle cx="183.4" cy="430.9" r="3.5"/>
<circle cx="184.5" cy="435.2" r="3.5"/>
<circle cx="186.2" cy="439.0" r="3.5"/>
<circle cx="186.6" cy="438.2" r="3.5"/>
<circle cx="182.7" cy="442.7" r="3.5"/>
<circle cx="181.1" cy="449.5" r="3.5"/>
<circle cx="183.4" cy="449.0" r="3.5"/>
<circle cx="180.8" cy="454.6" r="3.5"/>
<circle cx="179.5" cy="456.7" r="3.5"/>
<circle cx="179.8" cy="458.7" r="3.5"/>
<circle cx="178.6" cy="461.5" r="3.5"/>
<circle cx="172.9" cy="464.7" r="3.5"/>
<circle cx="171.7" cy="469.7" r="3.5"/>
<circle cx="170.7" cy="471.6" r="3.5"/>
<circle cx="170.7" cy="472.9" r="3.5"/>
<circle cx="167.4" cy="474.8" r="3.5"/>
<circle cx="163.5" cy="474.5" r="3.5"/>
<circle cx="163.6" cy="480.5" r="3.5"/>
<circle cx="159.9" cy="480.1" r="3.5"/>
<circle cx="158.1" cy="481.8" r="3.5"/>
<circle cx="153.8" cy="482.9" r="3.5"/>
<circle cx="153.8" cy="484.1" r="3.5"/>
<circle cx="151.1" cy="489.5" r="3.5"/>
<circle cx="148.3" cy="487.9" r="3.5"/>
<circle cx="145.3" cy="489.8" r="3.5"/>
<circle cx="145.9" cy="492.4" r="3.5"/>
<circle cx="141.0" cy="496.1" r="3.5"/>
<circle cx="139.9" cy="495.1" r="3.5"/>
<circle cx="135.8" cy="498.3" r="3.5"/>
<circle cx="134.0" cy="496.4" r="3.5"/>
<circle cx="131.9" cy="498.2" r="3.5"/>
<circle cx="126.6" cy="503.4" r="3.5"/>
<circle cx="123.7" cy="503.1" r="3.5"/>
<circle cx="121.5" cy="502.5" r="3.5"/>
</g>
<path d="M25.5 291.3V522.3H271.6" fill="none" stroke="#333" stroke-width="1"/>
<path d="M63.2 522.3v2.3" stroke="#333" stroke-width="0.9"/>
<text x="63.2" y="532.5" font-size="10" fill="#383838" text-anchor="middle">−1</text>
<path d="M110.4 522.3v2.3" stroke="#333" stroke-width="0.9"/>
<text x="110.4" y="532.5" font-size="10" fill="#383838" text-anchor="middle">0</text>
<path d="M157.6 522.3v2.3" stroke="#333" stroke-width="0.9"/>
<text x="157.6" y="532.5" font-size="10" fill="#383838" text-anchor="middle">1</text>
<path d="M204.8 522.3v2.3" stroke="#333" stroke-width="0.9"/>
<text x="204.8" y="532.5" font-size="10" fill="#383838" text-anchor="middle">2</text>
<path d="M25.5 511.9h-2" stroke="#333" stroke-width="0.9"/>
<text x="22.6" y="515.4" font-size="10" fill="#383838" text-anchor="end">0</text>
<path d="M25.5 456.8h-2" stroke="#333" stroke-width="0.9"/>
<text x="22.6" y="460.2" font-size="10" fill="#383838" text-anchor="end">2</text>
<path d="M25.5 401.7h-2" stroke="#333" stroke-width="0.9"/>
<text x="22.6" y="405.1" font-size="10" fill="#383838" text-anchor="end">4</text>
<path d="M25.5 346.6h-2" stroke="#333" stroke-width="0.9"/>
<text x="22.6" y="350.0" font-size="10" fill="#383838" text-anchor="end">6</text>
<path d="M25.5 291.5h-2" stroke="#333" stroke-width="0.9"/>
<text x="22.6" y="294.9" font-size="10" fill="#383838" text-anchor="end">8</text>
<text x="148.6" y="542.3" font-size="9.2" fill="#000" text-anchor="middle">BETA</text>
<text transform="translate(13.5 406.2) rotate(-90)" font-size="10" letter-spacing="-0.2" fill="#000" text-anchor="middle">-log10(MAGMA P value)</text>
<text x="25.7" y="285.6" font-size="9.4" fill="#000">MI gene sets</text>
<text x="6.3" y="285.0" font-size="8.4" font-weight="bold" fill="#000">C</text>
<path d="M92.7 460.1L109.9 456.9" stroke="#111" stroke-width="1" fill="none"/>
<path d="M110.6 476.9L115.4 466.6" stroke="#111" stroke-width="1" fill="none"/>
<path d="M152.3 431.6L138.3 440.0" stroke="#111" stroke-width="1" fill="none"/>
<path d="M124.2 467.2L135.8 478.8" stroke="#111" stroke-width="1" fill="none"/>
<circle cx="166.0" cy="379.1" r="3.45" fill="#ea262b" fill-opacity="0.86" stroke="#2a0404" stroke-width="0.8"/>
<circle cx="169.6" cy="415.2" r="3.45" fill="#ea262b" fill-opacity="0.86" stroke="#2a0404" stroke-width="0.8"/>
<circle cx="148.0" cy="422.5" r="3.45" fill="#ea262b" fill-opacity="0.86" stroke="#2a0404" stroke-width="0.8"/>
<circle cx="135.1" cy="442.0" r="3.45" fill="#ea262b" fill-opacity="0.86" stroke="#2a0404" stroke-width="0.8"/>
<circle cx="113.9" cy="455.5" r="3.45" fill="#ea262b" fill-opacity="0.86" stroke="#2a0404" stroke-width="0.8"/>
<circle cx="118.3" cy="454.8" r="3.45" fill="#ea262b" fill-opacity="0.86" stroke="#2a0404" stroke-width="0.8"/>
<circle cx="117.3" cy="462.2" r="3.45" fill="#ea262b" fill-opacity="0.86" stroke="#2a0404" stroke-width="0.8"/>
<circle cx="122.2" cy="464.7" r="3.45" fill="#ea262b" fill-opacity="0.86" stroke="#2a0404" stroke-width="0.8"/>
<circle cx="148.5" cy="461.0" r="3.45" fill="#ea262b" fill-opacity="0.86" stroke="#2a0404" stroke-width="0.8"/>
<text x="125.2" y="392.3" font-size="10.62" fill="#000">GO:0042627</text>
<text x="148.9" y="410.3" font-size="10.62" fill="#000">GO:0140059</text>
<text x="81.1" y="426.3" font-size="10.62" fill="#000">GO:0034385</text>
<text x="153.4" y="434.0" font-size="10.62" fill="#000">GO:0034364</text>
<text x="122.3" y="456.0" font-size="10.62" fill="#000">GO:0001505</text>
<text x="154.9" y="468.0" font-size="10.62" fill="#000">GO:0051940</text>
<text x="29.9" y="464.7" font-size="10.62" fill="#000">GO:0048878</text>
<text x="48.4" y="482.2" font-size="10.62" fill="#000">GO:0006836</text>
<text x="118.5" y="486.6" font-size="10.62" fill="#000" letter-spacing="-0.07">PATHWAY: hsa04720</text>
</g>
</svg></body></html>
